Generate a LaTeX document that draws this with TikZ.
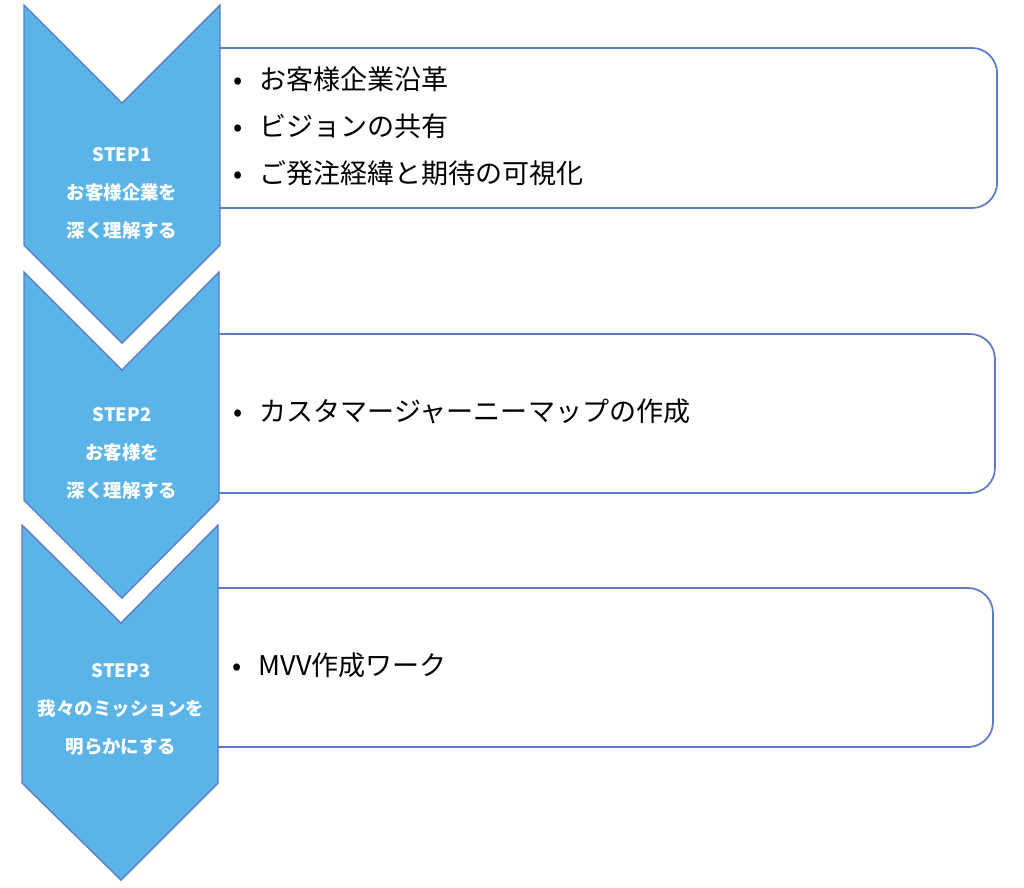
\documentclass[tikz,border=0pt]{standalone}
\usepackage{fontspec}
\setmainfont{Noto Sans CJK JP}
\usetikzlibrary{positioning}
\definecolor{stepfill}{RGB}{91,180,232}
\definecolor{stepline}{RGB}{92,124,200}
\tikzstyle{chevron} = [fill=stepfill, draw=stepline, line width=0.8pt, line join=miter]
\tikzstyle{steptext} = [text=white, font=\bfseries\fontsize{10.5}{21.6}\selectfont, align=center]
\tikzstyle{itembox} = [draw=stepline, line width=1pt, rounded corners=0.5cm, fill=white]
\tikzstyle{item} = [anchor=west, inner sep=0pt, font=\fontsize{15.4}{18}\selectfont]
\newcommand{\blt}{\makebox[0pt]{•}\hspace{0.42cm}}

\begin{document}
\begin{tikzpicture}[x=0.02cm, y=-0.02cm]
    \useasboundingbox (0,0) rectangle (1024,887);
    % content boxes
    \draw [itembox] (180,48) rectangle (997,208);
    \draw [itembox] (180,334) rectangle (995,493);
    \draw [itembox] (180,588) rectangle (993,747);
    % steps
    \draw [chevron] (24,5) -- (122,103) -- (220,5) -- (220,245) -- (122,343) -- (24,245) -- cycle;
    \draw [chevron] (24,272) -- (122,370) -- (219,272) -- (219,500) -- (122,598) -- (24,500) -- cycle;
    \draw [chevron] (22,525) -- (121,623) -- (218,525) -- (218,783) -- (121,880) -- (22,783) -- cycle;
    \node (step1) [steptext] at (122,193) {STEP1\\お客様企業を\\深く理解する};
    \node (step2) [steptext] at (122,453) {STEP2\\お客様を\\深く理解する};
    \node (step3) [steptext] at (121,709) {STEP3\\我々のミッションを\\明らかにする};
    % items
    \node (history) [item] at (238,79) {\blt お客様企業沿革};
    \node (vision) [item] at (238,126) {\blt ビジョンの共有};
    \node (order) [item] at (238,173) {\blt ご発注経緯と期待の可視化};
    \node (journey) [item] at (238,411) {\blt カスタマージャーニーマップの作成};
    \node (mvv) [item] at (237,665) {\blt MVV作成ワーク};
\end{tikzpicture}
\end{document}
